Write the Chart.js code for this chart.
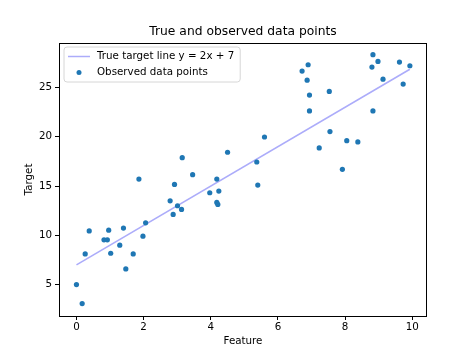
<!DOCTYPE html>
<html>
<head>
<meta charset="utf-8">
<script src="https://cdn.jsdelivr.net/npm/chart.js@4/dist/chart.umd.min.js"></script>
<style>
  html, body { margin: 0; padding: 0; background: #fff; }
  canvas { display: block; }
</style>
</head>
<body>
<canvas id="c" width="474" height="355"></canvas>
<script>
// ---- data ----
const obsX = [0.00, 0.17, 0.26, 0.38, 0.82, 0.92, 0.96, 1.02, 1.29, 1.40,
              1.47, 1.69, 1.86, 1.98, 2.06, 2.79, 2.88, 2.92, 3.01, 3.13,
              3.15, 3.46, 3.97, 4.18, 4.24, 4.18, 4.21, 4.50, 5.37, 5.40,
              5.60, 6.72, 6.90, 6.87, 6.94, 6.94, 7.23, 7.53, 7.55, 7.92,
              8.05, 8.38, 8.80, 8.83, 8.83, 8.98, 9.13, 9.62, 9.73, 9.93];
const obsY = [5.00, 3.07, 8.11, 10.45, 9.54, 9.54, 10.52, 8.18, 9.00, 10.73,
              6.59, 8.11, 15.71, 9.91, 11.27, 13.50, 12.12, 15.17, 13.00, 12.63,
              17.88, 16.15, 14.32, 15.71, 14.49, 13.34, 13.14, 18.43, 17.44, 15.10,
              19.98, 26.67, 27.31, 25.75, 24.23, 22.63, 18.87, 24.60, 20.53, 16.70,
              19.61, 19.48, 27.08, 28.33, 22.63, 27.65, 25.85, 27.58, 25.35, 27.21];
const lineX = [0, 9.93];
const lineY = [7, 26.86];
const xTicks = [0, 2, 4, 6, 8, 10];
const yTicks = [5, 10, 15, 20, 25];
const titleText = "True and observed data points";
const xTitle = "Feature";
const yTitle = "Target";
const lineLabel = "True target line y = 2x + 7";
const pointLabel = "Observed data points";

const FONT = "'DejaVu Sans', sans-serif";
const pointColor = '#1f77b4';
const lineColor = 'rgb(172,172,250)';

const framePlugin = {
  id: 'frame',
  afterDatasetsDraw(chart) {
    const {ctx, chartArea: a} = chart;
    ctx.save();
    ctx.strokeStyle = '#000';
    ctx.lineWidth = 1;
    ctx.strokeRect(Math.round(a.left) + 0.5, Math.round(a.top) + 0.5,
                   Math.round(a.right - a.left) - 1, Math.round(a.bottom - a.top));
    ctx.restore();
  }
};

const titlePlugin = {
  id: 'plotTitle',
  afterDraw(chart) {
    const {ctx, chartArea: a} = chart;
    ctx.save();
    ctx.fillStyle = '#000';
    ctx.font = "12.3px " + FONT;
    ctx.textAlign = 'center';
    ctx.textBaseline = 'middle';
    ctx.fillText(titleText, (a.left + a.right) / 2, 32);
    ctx.restore();
  }
};

const legendPlugin = {
  id: 'innerLegend',
  afterDraw(chart) {
    const {ctx, chartArea: a} = chart;
    ctx.save();
    ctx.font = "10.3px " + FONT;
    const w1 = ctx.measureText(lineLabel).width;
    const w2 = ctx.measureText(pointLabel).width;
    const left = a.left + 5, top = a.top + 4;
    const textX = left + 33;
    const right = textX + Math.max(w1, w2) + 6;
    const bottom = top + 35;
    // box
    ctx.beginPath();
    const r = 3;
    ctx.moveTo(left + r, top);
    ctx.lineTo(right - r, top);
    ctx.arcTo(right, top, right, top + r, r);
    ctx.lineTo(right, bottom - r);
    ctx.arcTo(right, bottom, right - r, bottom, r);
    ctx.lineTo(left + r, bottom);
    ctx.arcTo(left, bottom, left, bottom - r, r);
    ctx.lineTo(left, top + r);
    ctx.arcTo(left, top, left + r, top, r);
    ctx.closePath();
    ctx.fillStyle = 'rgba(255,255,255,0.8)';
    ctx.fill();
    ctx.strokeStyle = '#d6d6d6';
    ctx.lineWidth = 1;
    ctx.stroke();
    // line sample
    const y1 = top + 9.5, y2 = top + 25.5;
    ctx.beginPath();
    ctx.moveTo(left + 4, y1);
    ctx.lineTo(left + 26, y1);
    ctx.strokeStyle = lineColor;
    ctx.lineWidth = 1.5;
    ctx.stroke();
    // point sample
    ctx.beginPath();
    ctx.arc(left + 15, y2, 2.5, 0, Math.PI * 2);
    ctx.fillStyle = pointColor;
    ctx.fill();
    // text
    ctx.fillStyle = '#000';
    ctx.textAlign = 'left';
    ctx.textBaseline = 'middle';
    ctx.fillText(lineLabel, textX, y1);
    ctx.fillText(pointLabel, textX, y2);
    ctx.restore();
  }
};

new Chart(document.getElementById('c'), {
  type: 'scatter',
  data: {
    datasets: [
      {
        label: pointLabel,
        data: obsX.map((x, i) => ({x: x, y: obsY[i]})),
        backgroundColor: pointColor,
        borderColor: pointColor,
        borderWidth: 0,
        pointRadius: 2.6,
        order: 0
      },
      {
        type: 'line',
        label: lineLabel,
        data: lineX.map((x, i) => ({x: x, y: lineY[i]})),
        borderColor: lineColor,
        borderWidth: 1.6,
        pointRadius: 0,
        fill: false,
        order: 1
      }
    ]
  },
  options: {
    responsive: false,
    animation: false,
    devicePixelRatio: 1,
    layout: { padding: { top: 43, right: 47, left: 0, bottom: 0 } },
    plugins: {
      legend: { display: false },
      title: { display: false },
      tooltip: { enabled: false }
    },
    scales: {
      x: {
        type: 'linear',
        min: -0.52,
        max: 10.44,
        afterBuildTicks: s => { s.ticks = xTicks.map(v => ({value: v})); },
        afterFit: s => { s.height = 39; },
        border: { display: false },
        grid: { drawOnChartArea: false, drawTicks: true, tickLength: 4, color: '#000', tickWidth: 1 },
        ticks: { color: '#000', font: { family: FONT, size: 10.3 }, padding: 1, maxRotation: 0 },
        title: { display: true, text: xTitle, color: '#000', font: { family: FONT, size: 10.3 }, padding: { top: 0, bottom: 7 } }
      },
      y: {
        type: 'linear',
        min: 1.81,
        max: 29.52,
        afterBuildTicks: s => { s.ticks = yTicks.map(v => ({value: v})); },
        afterFit: s => { s.width = 59; },
        border: { display: false },
        grid: { drawOnChartArea: false, drawTicks: true, tickLength: 4, color: '#000', tickWidth: 1 },
        ticks: { color: '#000', font: { family: FONT, size: 10.3 }, padding: 3 },
        title: { display: true, text: yTitle, color: '#000', font: { family: FONT, size: 10.3 }, padding: { top: 23, bottom: 0 } }
      }
    }
  },
  plugins: [framePlugin, titlePlugin, legendPlugin]
});
</script>
</body>
</html>
